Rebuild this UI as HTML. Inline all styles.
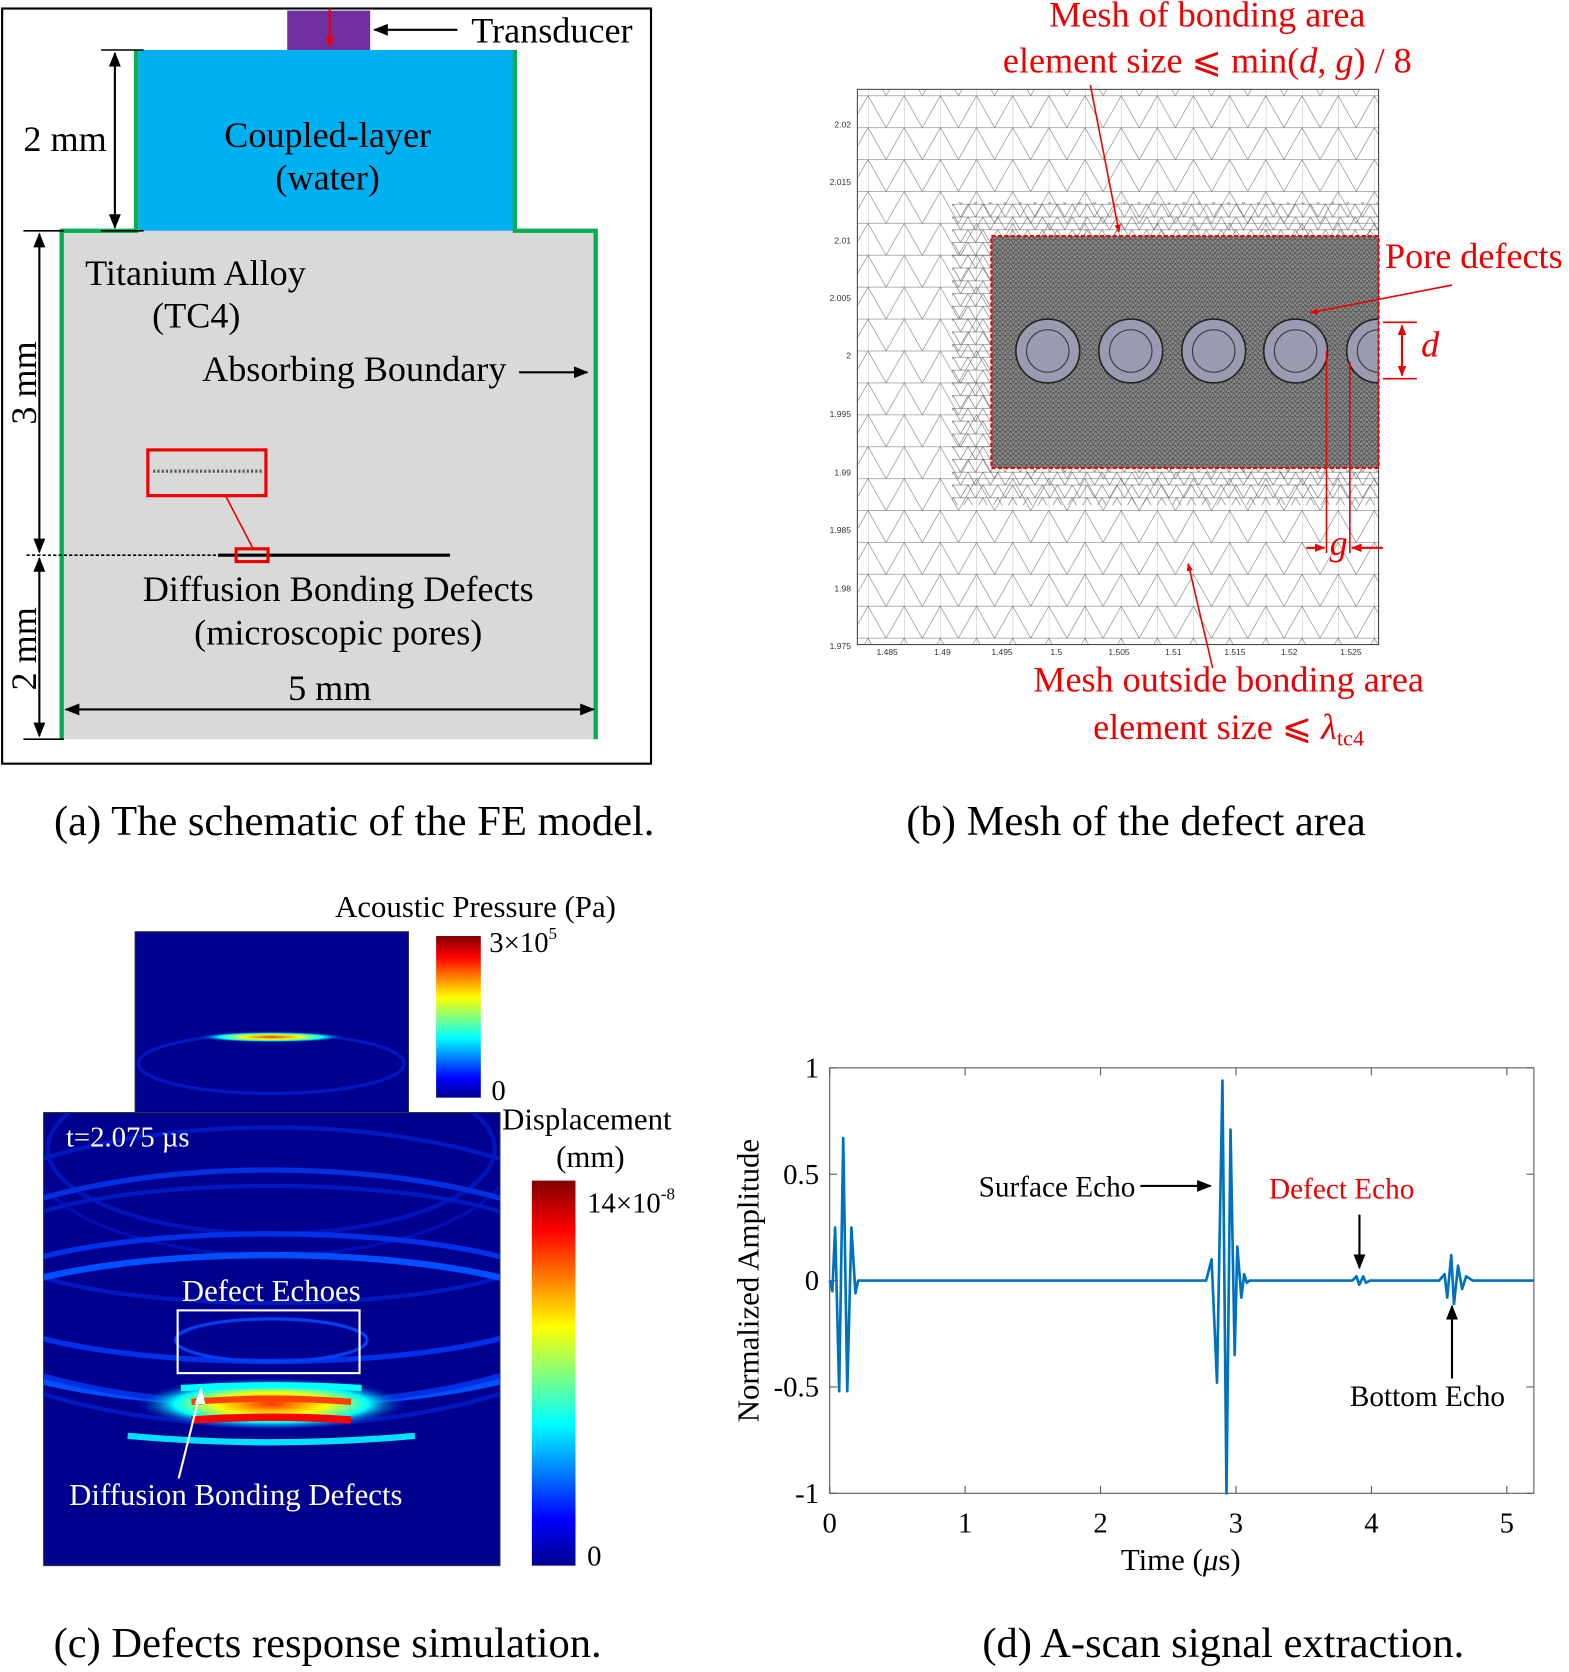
<!DOCTYPE html>
<html><head><meta charset="utf-8"><style>
html,body{margin:0;padding:0;background:#fff;width:1569px;height:1672px;overflow:hidden}
svg{display:block;font-family:"Liberation Serif",serif}
</style></head><body>
<svg id="fig" width="1569" height="1672" viewBox="0 0 1475 1572" preserveAspectRatio="none" xmlns="http://www.w3.org/2000/svg">
<defs>
<marker id="ah" viewBox="0 0 10 10" refX="9" refY="5" markerWidth="7" markerHeight="7" orient="auto-start-reverse"><path d="M0,1 L10,5 L0,9 z" fill="#000"/></marker>
<marker id="ahr" viewBox="0 0 10 10" refX="9" refY="5" markerWidth="5" markerHeight="5" orient="auto-start-reverse"><path d="M0,1 L10,5 L0,9 z" fill="#e00"/></marker>
<pattern id="mesh" width="34" height="30" patternUnits="userSpaceOnUse"><path d="M0,0 L34,0 L17,30 Z M17,30 L34,0 M0,30 L17,30 L34,30" fill="none" stroke="#666" stroke-width="0.5"/><path d="M0,0 L0,30" stroke="#666" stroke-width="0.4"/></pattern>
<pattern id="mesh2" width="14" height="12" patternUnits="userSpaceOnUse"><path d="M0,0 L14,0 L7,12 Z M0,12 L14,12" fill="none" stroke="#555" stroke-width="0.5"/></pattern>
<pattern id="mesh3" width="5" height="4.5" patternUnits="userSpaceOnUse"><rect width="5" height="4.5" fill="#8a8a8a"/><path d="M0,0 L5,0 L2.5,4.5 Z" fill="none" stroke="#333" stroke-width="0.5"/></pattern>
<linearGradient id="jet" x1="0" y1="1" x2="0" y2="0"><stop offset="0" stop-color="#00008f"/><stop offset="0.12" stop-color="#0000ff"/><stop offset="0.37" stop-color="#00ffff"/><stop offset="0.62" stop-color="#ffff00"/><stop offset="0.87" stop-color="#ff0000"/><stop offset="1" stop-color="#800000"/></linearGradient>
<radialGradient id="hot" cx="0.5" cy="0.5" r="0.5"><stop offset="0" stop-color="#ff3000"/><stop offset="0.4" stop-color="#ffff00"/><stop offset="0.7" stop-color="#00ffff"/><stop offset="1" stop-color="#0000a0" stop-opacity="0"/></radialGradient>
<clipPath id="cbig"><rect x="41" y="1046" width="429" height="426"/></clipPath>
<clipPath id="ctop"><rect x="127" y="876" width="257" height="170"/></clipPath>
<clipPath id="cmesh"><rect x="806" y="84" width="490" height="522"/></clipPath>
</defs>

<!-- Panel A -->
<g>
<rect x="2" y="8" width="610" height="710" fill="#fff" stroke="#000" stroke-width="2"/>
<rect x="58" y="217" width="502" height="478" fill="#d9d9d9"/>
<rect x="130" y="47" width="354" height="170" fill="#00b0f0"/>
<rect x="270" y="10" width="78" height="37" fill="#7030a0"/>
<line x1="310" y1="8" x2="310" y2="44" stroke="#e00" stroke-width="2" marker-end="url(#ahr)"/>
<path d="M128,47 V217 H58 V695 M484,47 V217 H560 V695" fill="none" stroke="#00b050" stroke-width="4"/>
<line x1="430" y1="28" x2="352" y2="28" stroke="#000" stroke-width="2" marker-end="url(#ah)"/>
<text x="443" y="40" font-size="34">Transducer</text>
<text x="308" y="138" font-size="34" text-anchor="middle">Coupled-layer</text>
<text x="308" y="178" font-size="34" text-anchor="middle">(water)</text>
<line x1="95" y1="47" x2="135" y2="47" stroke="#000" stroke-width="1.5"/>
<line x1="95" y1="217" x2="135" y2="217" stroke="#000" stroke-width="1.5"/>
<line x1="108" y1="50" x2="108" y2="214" stroke="#000" stroke-width="2" marker-start="url(#ah)" marker-end="url(#ah)"/>
<text x="22" y="142" font-size="34">2 mm</text>
<line x1="22" y1="217" x2="60" y2="217" stroke="#000" stroke-width="1.5"/>
<line x1="22" y1="695" x2="60" y2="695" stroke="#000" stroke-width="1.5"/>
<line x1="37" y1="220" x2="37" y2="519" stroke="#000" stroke-width="2" marker-start="url(#ah)" marker-end="url(#ah)"/>
<line x1="37" y1="525" x2="37" y2="692" stroke="#000" stroke-width="2" marker-start="url(#ah)" marker-end="url(#ah)"/>
<text transform="translate(34,360) rotate(-90)" font-size="34" text-anchor="middle">3 mm</text>
<text transform="translate(34,610) rotate(-90)" font-size="34" text-anchor="middle">2 mm</text>
<line x1="25" y1="522" x2="205" y2="522" stroke="#000" stroke-width="1.5" stroke-dasharray="3,2"/>
<line x1="205" y1="522" x2="423" y2="522" stroke="#000" stroke-width="3"/>
<rect x="222" y="516" width="30" height="12" fill="none" stroke="#e00" stroke-width="3"/>
<rect x="139" y="423" width="111" height="43" fill="none" stroke="#e00" stroke-width="3"/>
<line x1="144" y1="443" x2="246" y2="443" stroke="#555" stroke-width="3" stroke-dasharray="2,2"/>
<line x1="212" y1="466" x2="238" y2="516" stroke="#e00" stroke-width="1.5"/>
<text x="80" y="268" font-size="34">Titanium Alloy</text>
<text x="143" y="308" font-size="34">(TC4)</text>
<text x="190" y="358" font-size="34">Absorbing Boundary</text>
<line x1="488" y1="350" x2="552" y2="350" stroke="#000" stroke-width="2" marker-end="url(#ah)"/>
<text x="318" y="565" font-size="34" text-anchor="middle">Diffusion Bonding Defects</text>
<text x="318" y="606" font-size="34" text-anchor="middle">(microscopic pores)</text>
<text x="310" y="658" font-size="34" text-anchor="middle">5 mm</text>
<line x1="62" y1="667" x2="558" y2="667" stroke="#000" stroke-width="2" marker-start="url(#ah)" marker-end="url(#ah)"/>
<text x="333" y="785" font-size="40" text-anchor="middle">(a) The schematic of the FE model.</text>
</g>

<!-- Panel B -->
<g>
<g clip-path="url(#cmesh)">
<rect x="806" y="84" width="490" height="522" fill="#fff"/>
<rect x="806" y="84" width="490" height="522" fill="url(#mesh)"/>
<rect x="895" y="190" width="401" height="285" fill="url(#mesh2)"/>
<rect x="932" y="222" width="364" height="218" fill="url(#mesh3)"/>
<g fill="#9a9ab0" stroke="#222" stroke-width="1.5">
<circle cx="985" cy="330" r="30"/><circle cx="1063" cy="330" r="30"/><circle cx="1141" cy="330" r="30"/><circle cx="1218" cy="330" r="30"/><circle cx="1296" cy="330" r="30"/>
</g>
<g fill="none" stroke="#333" stroke-width="1">
<circle cx="985" cy="330" r="20"/><circle cx="1063" cy="330" r="20"/><circle cx="1141" cy="330" r="20"/><circle cx="1218" cy="330" r="20"/><circle cx="1296" cy="330" r="20"/>
</g>
</g>
<rect x="806" y="84" width="490" height="522" fill="none" stroke="#444" stroke-width="1"/>
<rect x="932" y="222" width="364" height="218" fill="none" stroke="#e00" stroke-width="2" stroke-dasharray="4,2"/>
<g font-family="Liberation Sans,sans-serif" font-size="8" fill="#333">
<text x="800" y="120" text-anchor="end">2.02</text><text x="800" y="174" text-anchor="end">2.015</text><text x="800" y="229" text-anchor="end">2.01</text><text x="800" y="283" text-anchor="end">2.005</text><text x="800" y="337" text-anchor="end">2</text><text x="800" y="392" text-anchor="end">1.995</text><text x="800" y="447" text-anchor="end">1.99</text><text x="800" y="501" text-anchor="end">1.985</text><text x="800" y="556" text-anchor="end">1.98</text><text x="800" y="610" text-anchor="end">1.975</text>
<text x="834" y="616" text-anchor="middle">1.485</text><text x="886" y="616" text-anchor="middle">1.49</text><text x="942" y="616" text-anchor="middle">1.495</text><text x="993" y="616" text-anchor="middle">1.5</text><text x="1052" y="616" text-anchor="middle">1.505</text><text x="1103" y="616" text-anchor="middle">1.51</text><text x="1161" y="616" text-anchor="middle">1.515</text><text x="1212" y="616" text-anchor="middle">1.52</text><text x="1270" y="616" text-anchor="middle">1.525</text>
</g>
<g fill="#e00" font-size="34">
<text x="1135" y="25" text-anchor="middle">Mesh of bonding area</text>
<text x="1135" y="68" text-anchor="middle">element size ⩽ min(<tspan font-style="italic">d</tspan>, <tspan font-style="italic">g</tspan>) / 8</text>
<text x="1302" y="252">Pore defects</text>
<text x="1336" y="335" font-style="italic">d</text>
<text x="1250" y="522" font-style="italic">g</text>
<text x="1155" y="650" text-anchor="middle">Mesh outside bonding area</text>
<text x="1155" y="695" text-anchor="middle">element size ⩽ <tspan font-style="italic">λ</tspan><tspan font-size="21" dy="6">tc4</tspan></text>
</g>
<line x1="1025" y1="80" x2="1052" y2="218" stroke="#e00" stroke-width="1.5" marker-end="url(#ahr)"/>
<line x1="1365" y1="268" x2="1232" y2="294" stroke="#e00" stroke-width="1.5" marker-end="url(#ahr)"/>
<line x1="1300" y1="303" x2="1332" y2="303" stroke="#e00" stroke-width="1.5"/>
<line x1="1300" y1="356" x2="1332" y2="356" stroke="#e00" stroke-width="1.5"/>
<line x1="1318" y1="306" x2="1318" y2="353" stroke="#e00" stroke-width="2" marker-start="url(#ahr)" marker-end="url(#ahr)"/>
<line x1="1247" y1="330" x2="1247" y2="520" stroke="#e00" stroke-width="1.5"/>
<line x1="1269" y1="340" x2="1269" y2="520" stroke="#e00" stroke-width="1.5"/>
<line x1="1228" y1="515" x2="1245" y2="515" stroke="#e00" stroke-width="2" marker-end="url(#ahr)"/>
<line x1="1300" y1="515" x2="1271" y2="515" stroke="#e00" stroke-width="2" marker-end="url(#ahr)"/>
<line x1="1140" y1="628" x2="1117" y2="530" stroke="#e00" stroke-width="1.5" marker-end="url(#ahr)"/>
<text x="1068" y="785" font-size="40" text-anchor="middle">(b) Mesh of the defect area</text>
</g>

<!-- Panel C -->
<g>
<rect x="127" y="876" width="257" height="170" fill="#00008f" stroke="#333"/>
<g clip-path="url(#ctop)">
<ellipse cx="255" cy="1000" rx="125" ry="28" fill="none" stroke="#0018c0" stroke-width="3"/>
<ellipse cx="255" cy="975" rx="70" ry="5" fill="url(#hot)"/>
</g>
<rect x="41" y="1046" width="429" height="426" fill="#00008f" stroke="#333"/>
<g clip-path="url(#cbig)" fill="none">
<ellipse cx="255" cy="1080" rx="210" ry="80" stroke="#0014b8" stroke-width="4"/>
<ellipse cx="255" cy="1080" rx="230" ry="100" stroke="#0010b0" stroke-width="3"/>
<ellipse cx="255" cy="1170" rx="260" ry="55" stroke="#0018c0" stroke-width="4"/>
<ellipse cx="255" cy="1220" rx="280" ry="60" stroke="#0030e8" stroke-width="5"/>
<ellipse cx="255" cy="1250" rx="300" ry="70" stroke="#0050ff" stroke-width="6"/>
<ellipse cx="255" cy="1210" rx="330" ry="110" stroke="#0030e0" stroke-width="5"/>
<ellipse cx="255" cy="1200" rx="350" ry="140" stroke="#0018c0" stroke-width="4"/>
<ellipse cx="255" cy="1260" rx="90" ry="20" stroke="#0040f0" stroke-width="3"/>
<ellipse cx="255" cy="1320" rx="130" ry="25" fill="url(#hot)"/>
<path d="M170,1305 Q255,1300 340,1305" stroke="#00ffff" stroke-width="6"/>
<path d="M180,1318 Q255,1312 330,1318" stroke="#ff4000" stroke-width="6"/>
<path d="M180,1335 Q255,1330 330,1335" stroke="#ff0000" stroke-width="7"/>
<path d="M120,1350 Q255,1362 390,1350" stroke="#00e0ff" stroke-width="6"/>
</g>
<rect x="167" y="1232" width="171" height="59" fill="none" stroke="#fff" stroke-width="2"/>
<text x="62" y="1078" font-size="27" fill="#fff">t=2.075 µs</text>
<text x="255" y="1223" font-size="29" fill="#fff" text-anchor="middle">Defect Echoes</text>
<line x1="168" y1="1390" x2="189" y2="1306" stroke="#fff" stroke-width="2"/>
<path d="M189,1304 L183,1320 L193,1320 Z" fill="#fff"/>
<text x="65" y="1415" font-size="29" fill="#fff">Diffusion Bonding Defects</text>
<rect x="410" y="880" width="42" height="152" fill="url(#jet)"/>
<text x="315" y="862" font-size="29">Acoustic Pressure (Pa)</text>
<text x="460" y="895" font-size="27">3×10<tspan font-size="16" dy="-12">5</tspan></text>
<text x="462" y="1034" font-size="27">0</text>
<rect x="500" y="1110" width="41" height="362" fill="url(#jet)"/>
<text x="472" y="1062" font-size="29">Displacement</text>
<text x="555" y="1097" font-size="29" text-anchor="middle">(mm)</text>
<text x="552" y="1140" font-size="27">14×10<tspan font-size="16" dy="-12">-8</tspan></text>
<text x="552" y="1472" font-size="27">0</text>
<text x="308" y="1558" font-size="40" text-anchor="middle">(c) Defects response simulation.</text>
</g>

<!-- Panel D -->
<g id="chartD">
<rect x="780" y="1004" width="662" height="400" fill="#fff" stroke="#555" stroke-width="1"/>
<g id="ticks"></g>
<polyline id="sig" fill="none" stroke="#0072bd" stroke-width="2.5" stroke-linejoin="round"/>
<text transform="translate(713,1204) rotate(-90)" font-size="29" text-anchor="middle">Normalized Amplitude</text>
<text x="1110" y="1476" font-size="29" text-anchor="middle">Time (<tspan font-style="italic">μ</tspan>s)</text>
<text x="920" y="1125" font-size="27.5">Surface Echo</text>
<line x1="1072" y1="1115" x2="1138" y2="1115" stroke="#000" stroke-width="2" marker-end="url(#ah)"/>
<text x="1193" y="1127" font-size="27.5" fill="#e00">Defect Echo</text>
<line x1="1278" y1="1142" x2="1278" y2="1192" stroke="#000" stroke-width="2" marker-end="url(#ah)"/>
<text x="1269" y="1322" font-size="27.5">Bottom Echo</text>
<line x1="1365" y1="1296" x2="1365" y2="1228" stroke="#000" stroke-width="2" marker-end="url(#ah)"/>
<text x="1150" y="1558" font-size="40" text-anchor="middle">(d) A-scan signal extraction.</text>
</g>
</svg>
<script>
const times = [0,0.02,0.04,0.07,0.10,0.13,0.16,0.19,0.21,2.78,2.82,2.86,2.90,2.93,2.96,2.99,3.01,3.04,3.06,3.08,3.10,3.86,3.89,3.91,3.94,3.96,3.99,4.50,4.54,4.56,4.59,4.61,4.64,4.67,4.70,4.75,5.2];
const amps  = [0,-0.05,0.25,-0.52,0.67,-0.52,0.25,-0.06,0,0,0.10,-0.48,0.94,-1.0,0.71,-0.35,0.16,-0.08,0.03,-0.01,0,0,0.02,-0.02,0.02,-0.01,0,0,0.03,-0.08,0.12,-0.11,0.07,-0.04,0.02,0,0];
const xTicks = [0,1,2,3,4,5];
const yTicks = [-1,-0.5,0,0.5,1];
const X0=780,X1=1442,Y0=1404,Y1=1004,XMAX=5.2;
function sx(t){return X0+(t/XMAX)*(X1-X0);}
function sy(a){return Y0-((a+1)/2)*(Y0-Y1);}
const NS='http://www.w3.org/2000/svg';
const sig=document.getElementById('sig');
sig.setAttribute('points',times.map((t,i)=>sx(t).toFixed(1)+','+sy(amps[i]).toFixed(1)).join(' '));
const tg=document.getElementById('ticks');
xTicks.forEach(v=>{
 const x=sx(v);
 [[Y0,Y0-7],[Y1,Y1+7]].forEach(p=>{const l=document.createElementNS(NS,'line');l.setAttribute('x1',x);l.setAttribute('x2',x);l.setAttribute('y1',p[0]);l.setAttribute('y2',p[1]);l.setAttribute('stroke','#555');tg.appendChild(l);});
 const t=document.createElementNS(NS,'text');
 
 
 t.setAttribute('x',x);t.setAttribute('y',Y0+37);t.setAttribute('font-size','27');t.setAttribute('text-anchor','middle');t.textContent=v;tg.appendChild(t);
});
yTicks.forEach(v=>{
 const y=sy(v);
 [[X0,X0+7],[X1,X1-7]].forEach(p=>{const l=document.createElementNS(NS,'line');l.setAttribute('y1',y);l.setAttribute('y2',y);l.setAttribute('x1',p[0]);l.setAttribute('x2',p[1]);l.setAttribute('stroke','#555');tg.appendChild(l);});
 const t=document.createElementNS(NS,'text');
 
 
 t.setAttribute('x',X0-10);t.setAttribute('y',y+9);t.setAttribute('font-size','27');t.setAttribute('text-anchor','end');t.textContent=v;tg.appendChild(t);
});
</script>
</body></html>
